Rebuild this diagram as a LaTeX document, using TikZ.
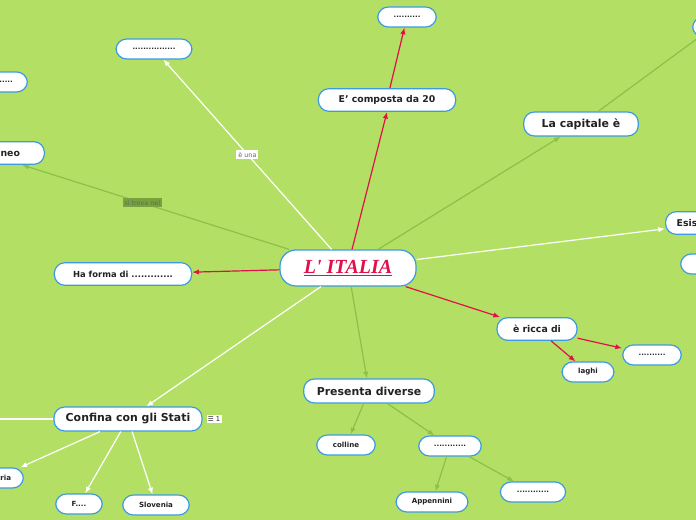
\documentclass[tikz,border=0pt]{standalone}
\usepackage{fontspec}
\setmainfont{DejaVu Sans}
\newfontfamily\serifit{Liberation Serif}
\usetikzlibrary{arrows.meta}
\definecolor{bg}{HTML}{B3E064}
\definecolor{bord}{HTML}{3C9BE0}
\definecolor{redl}{HTML}{E0104A}
\definecolor{grn}{HTML}{8CC04A}
\definecolor{txt}{HTML}{222222}
\tikzset{
 box/.style={draw=bord,line width=0.9pt,fill=white,rounded corners=8pt,inner sep=0pt,font=\bfseries,text=txt},
 big/.style={box,font=\bfseries\fontsize{8.2}{9}\selectfont},
 med/.style={box,font=\bfseries\fontsize{7}{8}\selectfont},
 sm/.style={box,font=\bfseries\fontsize{5.3}{6}\selectfont},
 rl/.style={draw=redl,line width=0.9pt,-{Latex[length=5pt,width=4pt]}},
 wl/.style={draw=white,line width=0.9pt,-{Latex[length=5pt,width=4pt]}},
 gl/.style={draw=grn,line width=0.9pt,-{Latex[length=5pt,width=4pt]}},
}
\begin{document}
\begin{tikzpicture}[x=0.75pt,y=-0.75pt]
\fill[bg] (0,0) rectangle (696,520);
\useasboundingbox (0,0) rectangle (696,520);
\begin{scope}
\clip (0,0) rectangle (696,520);
\node[box,minimum width=102pt,minimum height=27pt,rounded corners=12pt] (it) at (348,268) {\serifit\bfseries\itshape\fontsize{15}{16}\selectfont\color{redl}\underline{L' ITALIA}};
\node[med,minimum width=103pt,minimum height=17pt] (comp) at (387,100) {E' composta da 20};
\node[sm,minimum width=44pt,minimum height=15pt] (td) at (407,17) {..........};
\node[big,minimum width=86pt,minimum height=18pt] (cap) at (581,124) {La capitale è};
\node[sm,minimum width=44pt,minimum height=15pt,anchor=west] (tr) at (692,27) {..........};
\node[sm,minimum width=57pt,minimum height=15pt] (ld) at (154,49) {................};
\node[sm,minimum width=50pt,minimum height=15pt,anchor=east] (ld2) at (28,82) {..............};
\node[med,minimum width=90pt,minimum height=17pt,anchor=east] (neo) at (45,153) {Mediterraneo};
\node[med,minimum width=103pt,minimum height=17pt,font=\bfseries\fontsize{6.3}{7}\selectfont] (ha) at (123,274) {Ha forma di .............};
\node[med,minimum width=70pt,minimum height=17pt,anchor=west] (esi) at (665,223) {\hspace*{-20pt}Esistono};
\node[sm,minimum width=40pt,minimum height=15pt,anchor=west] (e2) at (680,264) {};
\node[med,minimum width=60pt,minimum height=17pt] (ric) at (537,329) {è ricca di};
\node[sm,minimum width=44pt,minimum height=15pt] (rd) at (652,355) {..........};
\node[sm,minimum width=39pt,minimum height=15pt] (lag) at (588,372) {laghi};
\node[big,minimum width=98pt,minimum height=18pt] (pre) at (369,391) {Presenta diverse};
\node[sm,minimum width=44pt,minimum height=15pt] (col) at (346,445) {colline};
\node[sm,minimum width=47pt,minimum height=15pt] (md) at (450,446) {............};
\node[sm,minimum width=54pt,minimum height=15pt] (app) at (432,502) {Appennini};
\node[sm,minimum width=49pt,minimum height=15pt] (bd) at (533,492) {............};
\node[big,minimum width=111pt,minimum height=18pt] (con) at (128,419) {Confina con gli Stati};
\node[fill=white,inner sep=1pt,font=\fontsize{5}{6}\selectfont,text=txt] (ic) at (214,419) {☰ 1};
\node[sm,minimum width=40pt,minimum height=15pt,anchor=east] (ria) at (24,478) {Austria};
\node[sm,minimum width=35pt,minimum height=15pt] (f) at (79,504) {F....};
\node[sm,minimum width=50pt,minimum height=15pt] (slo) at (156,505) {Slovenia};
\coordinate (lc) at (0,419);
\coordinate (trc) at (698,38);

\draw[rl] (it.north) ++(4,0) -- (comp.south);
\draw[rl] (comp) -- (td);
\draw[rl] (it) -- (ha);
\draw[rl] (it) -- (ric);
\draw[rl] (ric) -- (rd);
\draw[rl] (ric) -- (lag);
\draw[gl] (it) -- (cap);
\draw[grn,line width=0.9pt] (cap) -- (trc);
\draw[gl] (it) -- (pre);
\draw[gl] (pre) -- (col);
\draw[gl] (pre) -- (md);
\draw[gl] (md) -- (app);
\draw[gl] (md) -- (bd);
\draw[gl] (it) -- node[pos=0.55,fill=grn!85!black,text=black!60,inner sep=1.5pt,font=\fontsize{4.8}{5}\selectfont] {si trova nel} (neo);
\draw[wl] (it) -- node[pos=0.5,fill=white,text=black!60,inner sep=1.5pt,font=\fontsize{4.8}{5}\selectfont] {è una} (ld);
\draw[wl] (it) -- (esi);
\draw[wl] (it) -- (con);
\draw[white,line width=0.9pt] (con) -- (lc);
\draw[wl] (con) -- (ria);
\draw[wl] (con) -- (f);
\draw[wl] (con) -- (slo);
\end{scope}
\end{tikzpicture}
\end{document}
